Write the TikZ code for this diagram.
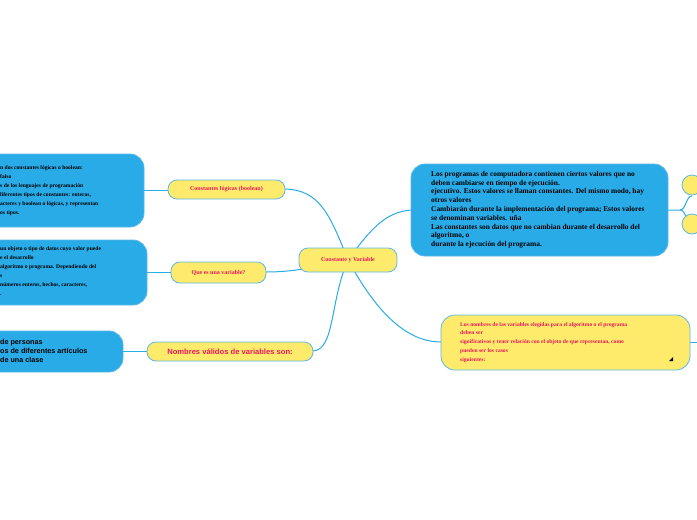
\documentclass[tikz,border=0pt]{standalone}
\usepackage{fontspec}
\setmainfont{Liberation Serif}
\newfontfamily\sansf{Liberation Sans}
\definecolor{bl}{HTML}{29ABE8}
\definecolor{bledge}{HTML}{5BB8E6}
\definecolor{yl}{HTML}{FFEB6B}
\definecolor{rd}{HTML}{E8175D}
\tikzset{
 blbox/.style={fill=bl,draw=bledge,line width=0.8pt,rounded corners=14pt},
 ylbox/.style={fill=yl,draw=bledge,line width=0.8pt,rounded corners=9pt},
 link/.style={draw=bl,line width=1pt},
 rt/.style={text=rd,font=\bfseries\fontsize{6}{7}\selectfont},
 bt/.style={text=black,font=\bfseries\fontsize{5.6}{9}\selectfont,align=left,anchor=north west,inner sep=0pt},
}
\begin{document}
\begin{tikzpicture}[x=1pt,y=-1pt]
\useasboundingbox (0,0) rectangle (697,520);
\clip (0,0) rectangle (697,520);
% connectors
\coordinate (cx) at (348,260);
\draw[link] (cx) .. controls (330,215) and (320,190) .. (285,189);
\draw[link] (cx) .. controls (320,265) and (300,272) .. (266,272);
\draw[link] (cx) .. controls (330,300) and (335,350) .. (313,351);
\draw[link] (cx) .. controls (370,230) and (385,212) .. (411,210);
\draw[link] (cx) .. controls (370,300) and (400,342) .. (441,342);
\draw[link] (144,190) -- (168,190);
\draw[link] (147,272) -- (171,272);
\draw[link] (123,351) -- (147,351);
\draw[link] (668,210) -- (680,210) .. controls (686,210) and (686,196) .. (692,196);
\draw[link] (680,210) .. controls (686,210) and (686,223) .. (692,223);
\draw[link] (690,342) -- (697,342);
% nodes
\node[ylbox,minimum width=98pt,minimum height=24pt,rt] (c) at (348,260) {Constante y Variable};
\node[ylbox,minimum width=117pt,minimum height=19pt,rt] (k) at (226.5,189.5) {Constantes lógicas (boolean)};
\node[ylbox,minimum width=95pt,minimum height=21pt,rt] (q) at (218.5,272.5) {Que es una variable?};
\node[ylbox,minimum width=166pt,minimum height=19pt,text=rd,font=\sansf\bfseries\fontsize{7.6}{9}\selectfont] (n) at (230,351.5) {Nombres válidos de variables son:};
\draw[blbox] (-30,154) rectangle (144,227);
\draw[blbox] (-30,240) rectangle (147,305);
\draw[blbox] (-30,331) rectangle (123,372);
\draw[blbox] (411,164) rectangle (668,256);
\draw[ylbox,rounded corners=14pt] (441,315) rectangle (690,370);
\draw[ylbox] (692,185) circle (10pt);
\draw[ylbox] (692,224) circle (10pt);
\fill (669,361) -- (673,361) -- (673,357) -- cycle;
\node[bt] (t1) at (0,165) {n dos constantes lógicas o boolean:\\
 falso\\
s de los lenguajes de programación\\
liferentes tipos de constantes: enteras,\\
acteres y boolean o lógicas, y representan\\
os tipos.};
\node[bt] (t2) at (0,246) {un objeto o tipo de datos cuyo valor puede\\
e el desarrollo\\
 algoritmo o programa. Dependiendo del\\
s\\
 números enteros, hechos, caracteres,\\
.};
\node[bt,font=\sansf\bfseries\fontsize{7.2}{9.2}\selectfont] (t3) at (0,339) {de personas\\
os de diferentes artículos\\
 de una clase};
\node[bt,font=\bfseries\fontsize{7.4}{8.8}\selectfont] (t4) at (431,171) {Los programas de computadora contienen ciertos valores que no\\
deben cambiarse en tiempo de ejecución.\\
ejecutivo. Estos valores se llaman constantes. Del mismo modo, hay\\
otros valores\\
Cambiarán durante la implementación del programa; Estos valores\\
se denominan variables. uña\\
Las constantes son datos que no cambian durante el desarrollo del\\
algoritmo, o\\
durante la ejecución del programa.};
\node[bt,text=rd,font=\bfseries\fontsize{5.6}{8.8}\selectfont] (t5) at (460,322) {Los nombres de las variables elegidas para el algoritmo o el programa\\
deben ser\\
significativos y tener relación con el objeto de que representan, como\\
pueden ser los casos\\
siguientes:};
\end{tikzpicture}
\end{document}
